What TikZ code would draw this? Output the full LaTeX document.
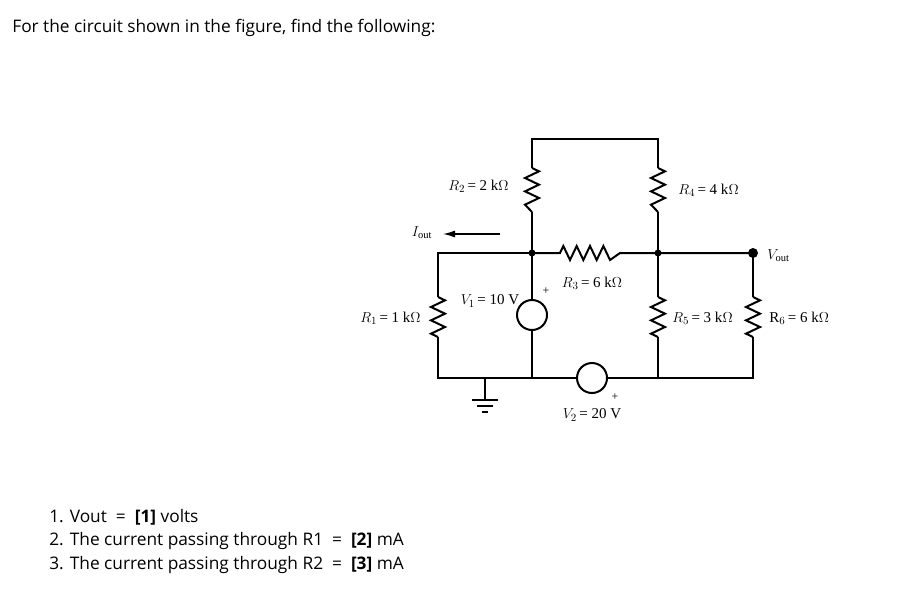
\documentclass[tikz,border=0pt]{standalone}
\usetikzlibrary{arrows.meta}
\usepackage{fontspec}
\setmainfont{Liberation Serif}
\newfontfamily\hdr{Open Sans}
\begin{document}
\begin{tikzpicture}[x=1pt,y=-1pt,line width=2pt,
  lbl/.style={font=\fontsize{15}{17}\selectfont},
  txt/.style={font=\hdr\fontsize{17.3}{20}\selectfont,anchor=west},
  pls/.style={font=\fontsize{12}{14}\selectfont},
  dot/.style={circle,fill,inner sep=0pt,minimum size=7pt},
  src/.style={circle,draw,line width=2pt,minimum size=30pt,inner sep=0pt,fill=white}]
\useasboundingbox (0,0) rectangle (923,605);
\newcommand{\zzv}[3]{% x, y1, y2 vertical zigzag
  \draw (#1,#2) -- ++(7,3.33) -- ++(-14,6.67) -- ++(14,6.67) -- ++(-14,6.67) -- ++(14,6.67) -- ++(-14,6.67) -- (#1,#3);}
\node[txt] (title) at (8,28) {For the circuit shown in the figure, find the following:};
% coordinates
\coordinate (TL) at (532,139); \coordinate (TR) at (658,139);
\coordinate (A) at (532,253); \coordinate (B) at (658,253); \coordinate (C) at (753,253);
\coordinate (L) at (438,253); \coordinate (BL) at (438,378); \coordinate (BR) at (753,378);
\coordinate (BA) at (532,378); \coordinate (BB) at (658,378); \coordinate (G) at (485,378);
% top loop with R2, R4
\draw (A) -- (532,212); \zzv{532}{168}{212} \draw (532,168) -- (TL) -- (TR) -- (658,168);
\zzv{658}{168}{212} \draw (658,212) -- (B);
% R3
\draw (A) -- (560,253) -- ++(3.33,-7) -- ++(6.67,14) -- ++(6.67,-14) -- ++(6.67,14) -- ++(6.67,-14) -- ++(6.67,14) -- ++(6.67,-14) -- ++(6.67,14) -- (620,253) -- (B) -- (C);
% left branch R1
\draw (A) -- (L) -- (438,297); \zzv{438}{297}{337} \draw (438,337) -- (BL) -- (BR) -- (753,337);
\zzv{753}{297}{337} \draw (753,297) -- (C);
% R5
\draw (B) -- (658,297); \zzv{658}{297}{337} \draw (658,337) -- (BB);
% V1
\draw (A) -- (BA);
\node[src] (V1) at (532,315) {};
\node[src] (V2) at (592,378) {};
% ground
\draw (G) -- (485,400);
\draw (472,400) -- (498,400); \draw (477,406) -- (493,406); \draw (482,412) -- (488,412);
% dots
\node[dot] (dA) at (A) {}; \node[dot] (dB) at (B) {}; \node[dot,minimum size=10pt] (dC) at (C) {};
% Iout arrow
\coordinate (Is) at (500,234); \coordinate (Ie) at (443,234);
\draw[-{Latex[length=12pt,width=7pt]},line width=1.4pt] (Is) -- (Ie);
\node[lbl] (Iout) at (422,233) {$I_{\mathrm{out}}$};
% labels
\node[lbl,anchor=east] (lR2) at (513,186) {$R_2$\,= 2 k$\Omega$};
\node[lbl,anchor=west] (lR4) at (674,190) {$R_4$\,= 4 k$\Omega$};
\node[lbl] (lR3) at (592,283) {$R_3$\,= 6 k$\Omega$};
\node[lbl,anchor=east] (lR1) at (425,318) {$R_1$\,= 1 k$\Omega$};
\node[lbl] (lV1) at (490,301) {$V_1$\,= 10 V};
\node[pls] (p1) at (546,291) {+};
\node[lbl,anchor=west] (lR5) at (668,318) {$R_5$\,= 3 k$\Omega$};
\node[lbl,anchor=west] (lR6) at (765,318) {R$_6$\,= 6 k$\Omega$};
\node[lbl] (lV2) at (592,415) {$V_2$\,= 20 V};
\node[pls] (p2) at (615,397) {+};
\node[lbl,anchor=west] (lVo) at (763,256) {$V_{\mathrm{out}}$};
% questions
\node[txt] (q1) at (45,517) {1. Vout \ = \ \textbf{[1]} volts};
\node[txt] (q2) at (45,541) {2. The current passing through R1 \ = \ \textbf{[2]} mA};
\node[txt] (q3) at (45,565) {3. The current passing through R2 \ = \ \textbf{[3]} mA};
\end{tikzpicture}
\end{document}
